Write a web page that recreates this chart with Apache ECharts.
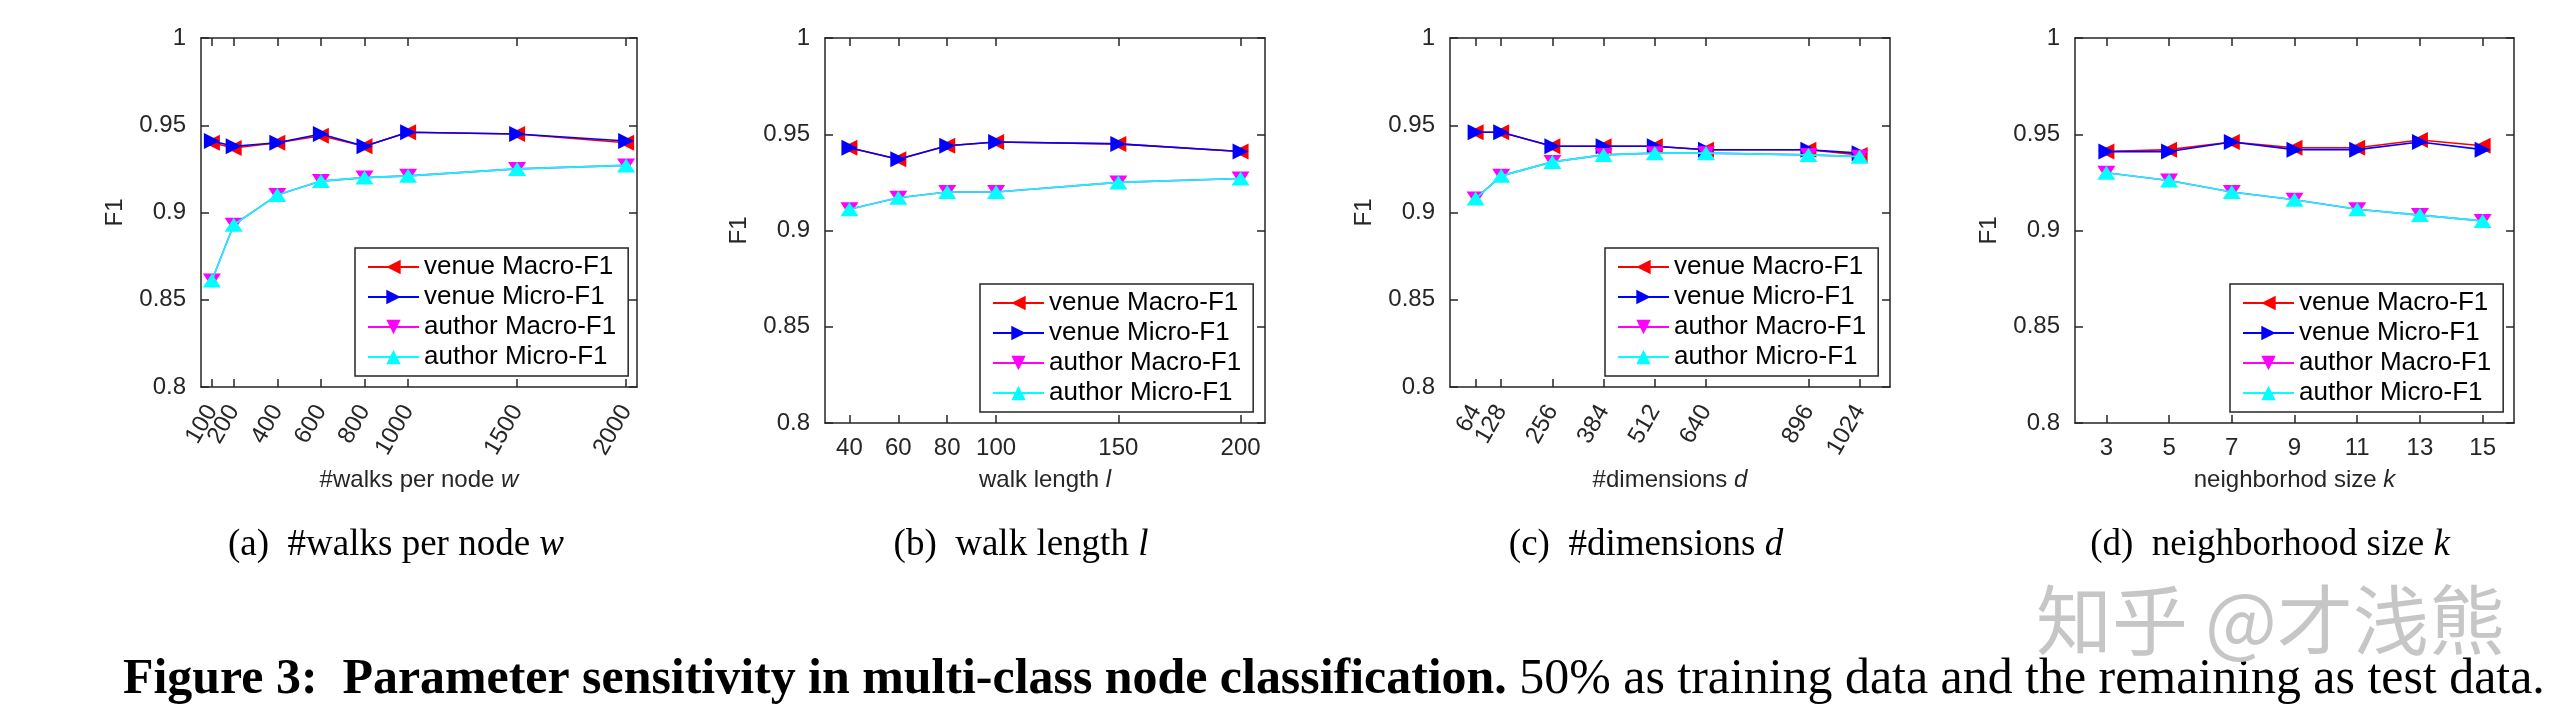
<!DOCTYPE html>
<html>
<head>
<meta charset="utf-8">
<script src="https://cdn.jsdelivr.net/npm/echarts@6/dist/echarts.min.js"></script>
<style>
  html, body { margin: 0; padding: 0; background: #fff; }
  #chart { width: 2570px; height: 724px; }
</style>
</head>
<body>
<div id="chart"></div>
<script>
// ---------- data ----------
const seriesNames = ['venue Macro-F1', 'venue Micro-F1', 'author Macro-F1', 'author Micro-F1'];

// (a) #walks per node w
const wValues = [100, 200, 400, 600, 800, 1000, 1500, 2000];
const wTickLabels = [100, 200, 400, 600, 800, 1000, 1500, 2000];
const aVenueMacro = [0.940, 0.937, 0.940, 0.944, 0.938, 0.946, 0.945, 0.940];
const aVenueMicro = [0.941, 0.938, 0.940, 0.945, 0.938, 0.946, 0.945, 0.941];
const aAuthorMacro = [0.861, 0.893, 0.910, 0.918, 0.920, 0.921, 0.925, 0.927];
const aAuthorMicro = [0.861, 0.893, 0.910, 0.918, 0.920, 0.921, 0.925, 0.927];

// (b) walk length l
const lValues = [40, 60, 80, 100, 150, 200];
const lTickLabels = [40, 60, 80, 100, 150, 200];
const bVenueMacro = [0.943, 0.937, 0.944, 0.946, 0.945, 0.941];
const bVenueMicro = [0.943, 0.937, 0.944, 0.946, 0.945, 0.941];
const bAuthorMacro = [0.911, 0.917, 0.920, 0.920, 0.925, 0.927];
const bAuthorMicro = [0.911, 0.917, 0.920, 0.920, 0.925, 0.927];

// (c) #dimensions d
const dValues = [64, 128, 256, 384, 512, 640, 896, 1024];
const dTickLabels = [64, 128, 256, 384, 512, 640, 896, 1024];
const cVenueMacro = [0.946, 0.946, 0.938, 0.938, 0.938, 0.936, 0.936, 0.933];
const cVenueMicro = [0.946, 0.946, 0.938, 0.938, 0.938, 0.936, 0.936, 0.934];
const cAuthorMacro = [0.908, 0.921, 0.929, 0.933, 0.934, 0.934, 0.933, 0.932];
const cAuthorMicro = [0.908, 0.921, 0.929, 0.933, 0.934, 0.934, 0.933, 0.932];

// (d) neighborhood size k
const kValues = [3, 5, 7, 9, 11, 13, 15];
const kTickLabels = [3, 5, 7, 9, 11, 13, 15];
const dVenueMacro = [0.941, 0.942, 0.946, 0.943, 0.943, 0.947, 0.944];
const dVenueMicro = [0.941, 0.941, 0.946, 0.942, 0.942, 0.946, 0.942];
const dAuthorMacro = [0.930, 0.926, 0.920, 0.916, 0.911, 0.908, 0.905];
const dAuthorMicro = [0.930, 0.926, 0.920, 0.916, 0.911, 0.908, 0.905];

const yTicks = [0.8, 0.85, 0.9, 0.95, 1];

const axisNames = ['#walks per node {i|w}', 'walk length {i|l}', '#dimensions {i|d}', 'neighborhod size {i|k}'];
const subCaptions = ['(a)  #walks per node {i|w}', '(b)  walk length {i|l}', '(c)  #dimensions {i|d}', '(d)  neighborhood size {i|k}'];
const captionBold = 'Figure 3:  Parameter sensitivity in multi-class node classification.';
const captionRest = ' 50% as training data and the remaining as test data.';
const watermark = '知乎 @才浅熊';

// ---------- layout / style ----------
const panels = [
  { x: wValues, ticks: wTickLabels, ys: [aVenueMacro, aVenueMicro, aAuthorMacro, aAuthorMicro], min: 50, max: 2050, rotate: 60,
    grid: { left: 201, top: 38, width: 436, height: 349 }, legend: { left: 355, top: 248 }, nameGap: 81, cap: 396 },
  { x: lValues, ticks: lTickLabels, ys: [bVenueMacro, bVenueMicro, bAuthorMacro, bAuthorMicro], min: 30, max: 210, rotate: 0,
    grid: { left: 825, top: 38, width: 440, height: 385 }, legend: { left: 980, top: 284 }, nameGap: 45, cap: 1021 },
  { x: dValues, ticks: dTickLabels, ys: [cVenueMacro, cVenueMicro, cAuthorMacro, cAuthorMicro], min: 0, max: 1100, rotate: 60,
    grid: { left: 1450, top: 38, width: 440, height: 349 }, legend: { left: 1605, top: 248 }, nameGap: 81, cap: 1646 },
  { x: kValues, ticks: kTickLabels, ys: [dVenueMacro, dVenueMicro, dAuthorMacro, dAuthorMicro], min: 2, max: 16, rotate: 0,
    grid: { left: 2075, top: 38, width: 439, height: 385 }, legend: { left: 2230, top: 284 }, nameGap: 45, cap: 2270 }
];

const colors = ['#ff0000', '#0000ff', '#ff00ff', '#00ffff'];
const symbolRot = [90, -90, 180, 0];
const symbolSizes = [16, 16, [18, 14], [18, 14]];
const axisColor = '#262626';
const sans = '"Liberation Sans", Arial, sans-serif';
const serif = '"Liberation Serif", "DejaVu Serif", serif';
const plain = v => String(v);

const grid = [], xAxis = [], yAxis = [], series = [], legend = [], graphic = [];

panels.forEach((p, i) => {
  grid.push(Object.assign({ containLabel: false, outerBoundsMode: 'none' }, p.grid));
  const tickStyle = { show: true, inside: true, length: 8, lineStyle: { color: axisColor, width: 1.5 } };
  const labelBase = { formatter: plain, rotate: p.rotate, margin: p.rotate ? 20 : 13,
    hideOverlap: false, showMinLabel: true, showMaxLabel: true,
    fontSize: 24, fontFamily: sans, color: axisColor };
  // rotated labels overlap in the reference: first label goes on its own axis so both stay visible
  const mainLabels = p.rotate ? p.ticks.slice(1) : p.ticks;
  const xMain = xAxis.length;
  xAxis.push({
    type: 'value', gridIndex: i, position: 'bottom', min: p.min, max: p.max,
    splitLine: { show: false },
    axisLine: { show: true, onZero: false, lineStyle: { color: axisColor, width: 1.5 } },
    axisTick: Object.assign({ customValues: p.x }, tickStyle),
    axisLabel: Object.assign({ customValues: mainLabels }, labelBase),
    name: axisNames[i], nameLocation: 'middle', nameGap: p.nameGap,
    nameTextStyle: { fontSize: 24, fontFamily: sans, color: axisColor, verticalAlign: 'top',
      rich: { i: { fontSize: 24, fontFamily: sans, fontStyle: 'italic', color: axisColor } } }
  });
  if (p.rotate) {
    xAxis.push({
      type: 'value', gridIndex: i, position: 'bottom', offset: 0, min: p.min, max: p.max,
      splitLine: { show: false }, axisLine: { show: false }, axisTick: { show: false },
      axisLabel: Object.assign({ customValues: p.ticks.slice(0, 1) }, labelBase)
    });
  }
  xAxis.push({
    type: 'value', gridIndex: i, position: 'top', min: p.min, max: p.max,
    splitLine: { show: false },
    axisLine: { show: true, onZero: false, lineStyle: { color: axisColor, width: 1.5 } },
    axisTick: Object.assign({ customValues: p.x }, tickStyle),
    axisLabel: { show: false }
  });
  const yMain = yAxis.length;
  yAxis.push({
    type: 'value', gridIndex: i, position: 'left', min: 0.8, max: 1, interval: 0.05,
    splitLine: { show: false },
    axisLine: { show: true, onZero: false, lineStyle: { color: axisColor, width: 1.5 } },
    axisTick: Object.assign({ customValues: yTicks }, tickStyle),
    axisLabel: { customValues: yTicks, formatter: plain, margin: 15, showMinLabel: true, showMaxLabel: true,
      fontSize: 24, fontFamily: sans, color: axisColor },
    name: 'F1', nameLocation: 'middle', nameGap: 74, nameRotate: 90,
    nameTextStyle: { fontSize: 24, fontFamily: sans, color: axisColor }
  });
  yAxis.push({
    type: 'value', gridIndex: i, position: 'right', min: 0.8, max: 1, interval: 0.05,
    splitLine: { show: false },
    axisLine: { show: true, onZero: false, lineStyle: { color: axisColor, width: 1.5 } },
    axisTick: Object.assign({ customValues: yTicks }, tickStyle),
    axisLabel: { show: false }
  });
  p.ys.forEach((vals, s) => {
    series.push({
      type: 'line', name: seriesNames[s], xAxisIndex: xMain, yAxisIndex: yMain,
      data: p.x.map((xv, k) => [xv, vals[k]]),
      symbol: 'triangle', symbolRotate: symbolRot[s], symbolSize: symbolSizes[s],
      showAllSymbol: true,
      lineStyle: { color: colors[s], width: 1.6 },
      itemStyle: { color: colors[s] },
      emphasis: { disabled: true },
      z: 2 + s
    });
  });
  legend.push({
    orient: 'vertical', left: p.legend.left, top: p.legend.top,
    data: seriesNames, selectedMode: false,
    padding: [6, 12, 6, 12], itemGap: 4, itemWidth: 51, itemHeight: 18,
    borderColor: axisColor, borderWidth: 1.5, backgroundColor: '#fff', borderRadius: 0,
    textStyle: { fontSize: 26, lineHeight: 24, fontFamily: sans, color: '#000' },
    z: 10
  });
  graphic.push({
    type: 'text', x: p.cap, y: 545,
    style: {
      text: subCaptions[i], fontSize: 37, fontFamily: serif, fill: '#000',
      textAlign: 'center', textVerticalAlign: 'middle',
      rich: { i: { fontSize: 37, fontFamily: serif, fontStyle: 'italic', fill: '#000' } }
    }
  });
});

// fit caption width to the reference span
const cv = document.createElement('canvas').getContext('2d');
cv.font = 'bold 100px ' + serif;
const wb = cv.measureText(captionBold).width;
cv.font = '100px ' + serif;
const wr = cv.measureText(captionRest).width;
const capSize = 100 * 2422 / (wb + wr);

graphic.push({
  type: 'text', x: 123, y: 680,
  style: {
    text: '{b|' + captionBold + '}' + captionRest,
    fontSize: capSize, fontFamily: serif, fill: '#000',
    textAlign: 'left', textVerticalAlign: 'middle',
    rich: { b: { fontSize: capSize, fontFamily: serif, fontWeight: 'bold', fill: '#000' } }
  }
});
graphic.push({
  type: 'text', x: 2036, y: 620, z: 0,
  style: {
    text: watermark, fontSize: 76, fontFamily: '"Noto Sans CJK SC", sans-serif',
    fill: '#c6c6c6', textAlign: 'left', textVerticalAlign: 'middle',
    textShadowColor: '#9c9c9c', textShadowOffsetX: -2, textShadowOffsetY: 2, textShadowBlur: 0
  }
});

const chart = echarts.init(document.getElementById('chart'));
chart.setOption({
  animation: false,
  backgroundColor: '#fff',
  grid, xAxis, yAxis, series, legend, graphic
});
</script>
</body>
</html>
